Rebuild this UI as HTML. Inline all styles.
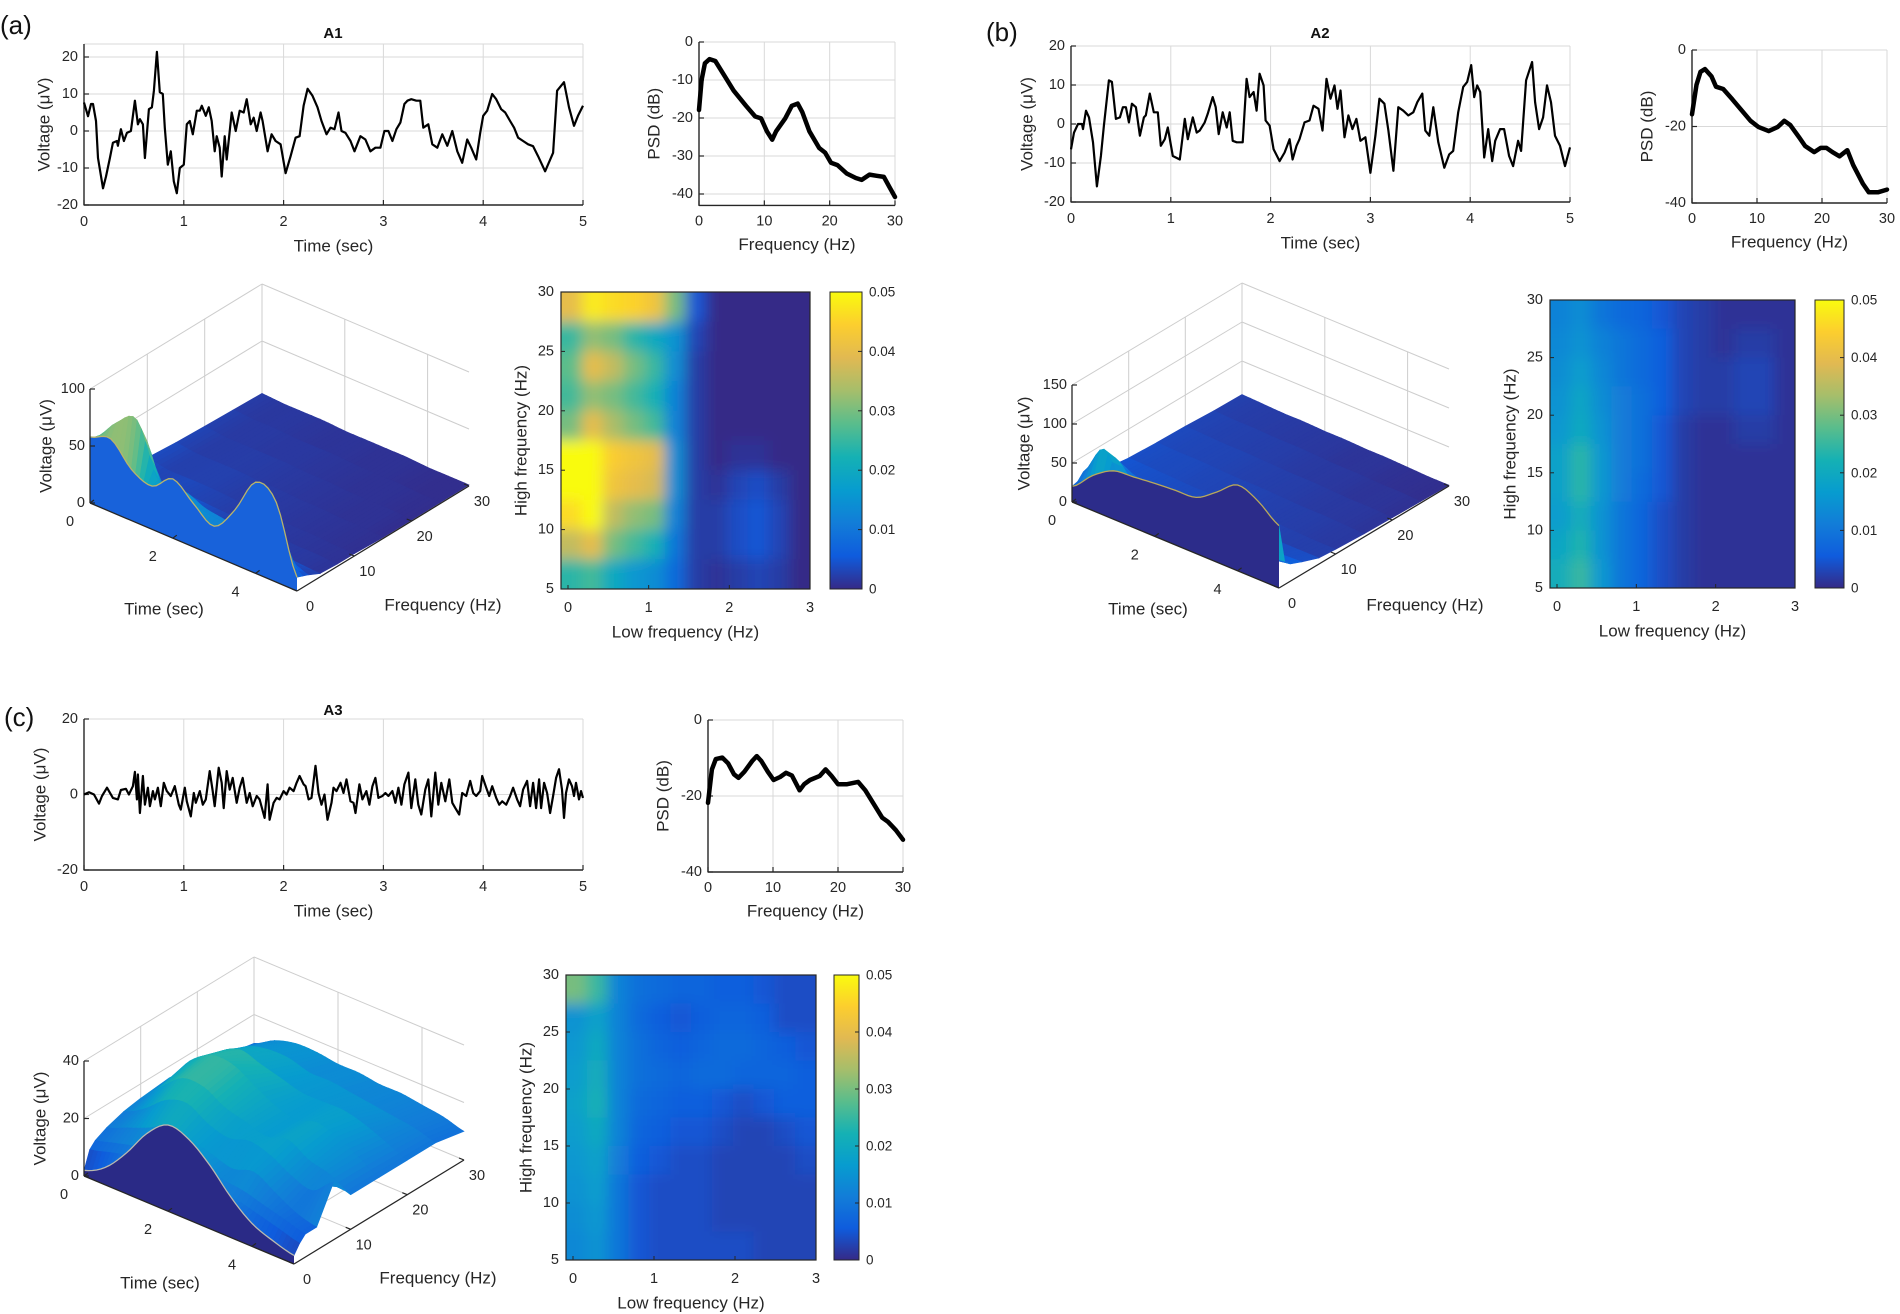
<!DOCTYPE html>
<html><head><meta charset="utf-8">
<style>
html,body{margin:0;padding:0;background:#fff}
svg{display:block;font-family:"Liberation Sans",Arial,sans-serif}
</style></head>
<body>
<svg id="fig" width="1900" height="1314" viewBox="0 0 1900 1314" xmlns="http://www.w3.org/2000/svg">
<defs>
<linearGradient id="parulaGrad" x1="0" y1="1" x2="0" y2="0">
<stop offset="0" stop-color="rgb(53,42,135)"/><stop offset="0.111" stop-color="rgb(15,92,221)"/><stop offset="0.222" stop-color="rgb(18,125,216)"/><stop offset="0.333" stop-color="rgb(7,156,207)"/><stop offset="0.444" stop-color="rgb(21,177,180)"/><stop offset="0.556" stop-color="rgb(89,189,140)"/><stop offset="0.667" stop-color="rgb(165,190,107)"/><stop offset="0.778" stop-color="rgb(225,185,82)"/><stop offset="0.889" stop-color="rgb(252,206,46)"/><stop offset="1" stop-color="rgb(249,251,14)"/>
</linearGradient>
<filter id="hmBlur" x="-10%" y="-10%" width="120%" height="120%"><feGaussianBlur stdDeviation="7"/></filter>
</defs>
<rect x="0" y="0" width="1900" height="1314" fill="#fff"/>
<text x="0" y="34" font-size="26" fill="#111">(a)</text>
<text x="986" y="41" font-size="26" fill="#111">(b)</text>
<text x="4" y="726" font-size="26" fill="#111">(c)</text>
<text x="333" y="38" font-size="15" font-weight="bold" text-anchor="middle" fill="#111">A1</text>
<text x="1320" y="38" font-size="15" font-weight="bold" text-anchor="middle" fill="#111">A2</text>
<text x="333" y="715" font-size="15" font-weight="bold" text-anchor="middle" fill="#111">A3</text>
</svg>
<script>
// ---------- data ----------
const timeTicks=[0,1,2,3,4,5];
const psdFreqTicks=[0,10,20,30];
const ts1Time=[0,0.04,0.07,0.09,0.12,0.14,0.19,0.22,0.26,0.29,0.33,0.34,0.37,0.40,0.43,0.47,0.51,0.54,0.56,0.59,0.61,0.65,0.68,0.70,0.73,0.76,0.79,0.81,0.84,0.87,0.90,0.93,0.96,1.0,1.03,1.06,1.09,1.13,1.16,1.18,1.22,1.25,1.28,1.31,1.33,1.36,1.38,1.41,1.43,1.48,1.52,1.56,1.60,1.63,1.67,1.70,1.73,1.77,1.79,1.84,1.88,1.92,1.97,2.02,2.07,2.12,2.16,2.20,2.24,2.29,2.34,2.38,2.43,2.47,2.51,2.55,2.58,2.62,2.67,2.71,2.77,2.82,2.87,2.92,2.97,3.01,3.05,3.09,3.13,3.17,3.21,3.24,3.28,3.33,3.37,3.40,3.45,3.49,3.54,3.59,3.64,3.69,3.74,3.79,3.84,3.88,3.93,3.97,4.0,4.04,4.09,4.13,4.18,4.22,4.27,4.31,4.35,4.40,4.45,4.50,4.55,4.62,4.70,4.74,4.81,4.86,4.91,4.95,5.0];
const ts1Volt=[7.7,4,7.3,7.3,2.7,-7.3,-15.5,-12.3,-7.3,-3.2,-2.7,-4,0.5,-2.7,-0.5,0,8.2,1.8,3.2,1.8,-7.3,5.9,6.4,10.9,21.4,10.5,10,0.9,-9.1,-5.5,-13.6,-16.8,-10,-9.1,1.8,2.7,-0.9,5.5,5.5,6.8,4.1,6.4,2.7,-5.5,-1.4,-4.5,-12.3,-1.4,-7.7,5,0,5.5,5,8.6,1.8,3.6,0,5,2.7,-5.5,-0.9,-2.7,-3.6,-11.4,-6.8,-1.8,-1.4,6.8,11.4,9.5,6.4,2.7,-0.9,0.9,0.5,5,0,-0.5,-2.7,-5.5,-1.4,-2.3,-5.5,-4.5,-4.5,0,0,-2.7,0.5,2.3,7.3,8.2,8.6,8.2,8.2,0.9,1.8,-3.6,-4.5,-0.9,-4,0,-5.5,-8.6,-2.3,-4.5,-7.7,-0.5,4.1,5.5,10,8.6,5.9,5,2.7,0.9,-1.8,-2.7,-3.6,-4.1,-6.8,-10.9,-5.9,10.9,13.2,6.4,1.4,4.1,6.8];
const ts2Time=[0,0.03,0.07,0.11,0.12,0.15,0.18,0.22,0.26,0.30,0.33,0.38,0.41,0.45,0.49,0.52,0.55,0.58,0.61,0.65,0.69,0.73,0.75,0.79,0.83,0.87,0.90,0.94,0.97,1.02,1.09,1.14,1.17,1.22,1.26,1.29,1.34,1.37,1.42,1.45,1.48,1.52,1.56,1.59,1.62,1.66,1.72,1.76,1.79,1.83,1.86,1.89,1.93,1.95,1.99,2.03,2.09,2.14,2.19,2.22,2.26,2.29,2.34,2.39,2.43,2.48,2.52,2.56,2.60,2.64,2.67,2.70,2.74,2.78,2.82,2.86,2.90,2.95,3.0,3.05,3.09,3.14,3.18,3.23,3.28,3.33,3.38,3.43,3.47,3.52,3.55,3.59,3.63,3.68,3.74,3.79,3.83,3.88,3.93,3.97,4.01,4.04,4.07,4.10,4.14,4.18,4.22,4.25,4.30,4.34,4.39,4.43,4.48,4.51,4.56,4.62,4.65,4.69,4.73,4.77,4.81,4.85,4.90,4.95,5.0];
const ts2Volt=[-6.5,-2.2,0,0,-1.3,3.4,1.7,-4.7,-16,-8.2,-0.4,11.2,10.8,1.3,1.7,4.3,4.3,0.4,5.2,4.3,-3,1.7,2.2,7.8,3,3,-5.6,-3.9,-0.9,-8.2,-9.1,1.3,-3.9,1.7,-2.2,-1.7,0.4,2.6,6.9,4.3,-2.6,3,-0.9,3,-4.3,-4.7,-4.7,11.6,6.9,8.2,3.4,12.9,9.9,0.9,-0.4,-6.5,-9.5,-7.3,-3.9,-9.1,-5.6,-3.9,0.4,0.9,4.7,3.9,-1.7,11.6,6.5,9.9,3.9,8.6,-3.4,2.2,-1.3,1.3,-4.3,-3.4,-12.5,-3,6.5,5.2,-1.7,-12,4.3,3.4,2.2,3,5.6,7.8,-1.7,-3,4.3,-4.7,-11.2,-7.8,-6.9,3,9.5,10.8,15.1,6.9,9.9,8.2,-8.6,-1.3,-9.5,-4.3,-1.3,-1.3,-8.2,-10.8,-4.3,-6.9,11.2,15.9,5.6,-1.3,1.7,9.9,5.6,-3,-5.6,-10.8,-6];
const ts3Time=[0,0.05,0.10,0.15,0.18,0.23,0.29,0.34,0.37,0.42,0.45,0.49,0.51,0.53,0.54,0.56,0.59,0.61,0.64,0.66,0.69,0.71,0.74,0.77,0.80,0.83,0.87,0.91,0.95,0.97,1.01,1.03,1.07,1.10,1.12,1.16,1.19,1.22,1.26,1.29,1.31,1.35,1.38,1.40,1.43,1.46,1.49,1.53,1.56,1.59,1.63,1.66,1.69,1.73,1.76,1.81,1.84,1.86,1.90,1.93,1.96,2.00,2.03,2.06,2.10,2.13,2.16,2.20,2.22,2.25,2.28,2.32,2.35,2.38,2.41,2.44,2.48,2.50,2.53,2.57,2.60,2.63,2.67,2.70,2.72,2.76,2.79,2.83,2.86,2.89,2.92,2.95,2.99,3.02,3.05,3.09,3.12,3.15,3.18,3.21,3.25,3.28,3.32,3.35,3.38,3.42,3.45,3.48,3.52,3.55,3.58,3.62,3.66,3.69,3.72,3.76,3.79,3.83,3.87,3.90,3.93,3.97,3.99,4.03,4.06,4.09,4.13,4.16,4.19,4.23,4.27,4.30,4.34,4.37,4.40,4.44,4.47,4.50,4.53,4.56,4.58,4.61,4.64,4.67,4.70,4.73,4.76,4.79,4.81,4.83,4.86,4.89,4.91,4.93,4.96,4.98,5.0];
const ts3Volt=[0,0.6,0,-2.4,-0.4,1.8,-0.9,-1.3,1.2,1.5,0,2.2,6,-1.3,5.3,-4.9,4.9,-2.7,1.8,-3.1,0.9,-1.3,1.8,-3.1,3.1,0.9,-0.4,2.2,-2.7,-4,1.8,-1.8,-5.8,0.4,-2.2,0.9,-2.7,-1.3,6.2,0.9,-3.1,7.1,3.1,-3.6,6.2,1.3,4.4,-2.2,1.8,4.4,-2.2,0.4,-3.1,-0.4,-1.3,-6.2,2.7,-6.7,-2.2,-0.9,-1.3,0.9,0,1.8,0.9,3.1,4.9,2.7,2.2,-1.3,-0.9,7.6,0.4,-2.7,0,-6.7,-2.2,1.8,0.9,3.1,0.4,4,-1.8,-2.2,-4.9,2.7,-1.3,0.9,-2.7,2.2,4.4,-0.9,-0.4,0.4,-0.4,0.9,-2.2,1.8,-2.7,2.7,5.8,-3.6,4,-2.7,-5.3,1.3,4,-5.8,5.8,-2.7,3.1,-1.8,4,-2.2,-3.6,-5.3,0.4,-0.4,3.6,0.4,-0.4,0.9,4.9,1.8,-0.4,2.2,-0.9,-2.7,-1.8,-2.7,-0.4,1.8,-1.3,-3.1,1.3,3.6,-3.1,3.1,-3.6,4,-3.6,3.1,0.4,-4.9,-0.4,4.4,6.7,1.3,-6.2,0.4,4,2.2,-0.4,3.1,-1.3,0.9,-0.9];
const psd1Freq=[0,0.4,0.9,1.6,2.5,3.9,5.3,7.2,8.6,9.5,10.4,11.2,11.8,13.2,14.2,15.1,15.8,16.9,18.4,19.3,20.2,21.2,22.6,24,24.9,26.1,27.2,28.3,29.1,30];
const psd1Db=[-17.9,-10,-5.6,-4.5,-5,-8.9,-12.8,-16.8,-19.6,-20.1,-23.5,-25.7,-23.5,-20.1,-16.8,-16.2,-18.4,-23.5,-27.9,-29.1,-31.8,-32.4,-34.6,-35.8,-36.3,-34.9,-35.2,-35.5,-38,-40.8];
const psd2Freq=[0,0.7,1.3,2,3,3.7,4.8,6.2,7.6,9,10.2,11.8,13.2,14.2,15.1,16.5,17.4,18.8,19.8,20.7,21.6,22.7,23.9,24.8,26.3,27.2,28.6,30];
const psd2Db=[-16.8,-9.1,-5.7,-5,-6.9,-9.6,-10.2,-12.9,-15.7,-18.5,-20.1,-21.2,-20.1,-18.5,-19.6,-22.9,-25.1,-26.7,-25.6,-25.6,-26.7,-27.8,-26.2,-30.1,-35,-37.2,-37.2,-36.5];
const psd3Freq=[0,0.6,1.2,2.2,3.1,4,4.7,5.6,6.8,7.5,8.2,9.2,10.1,11.1,12,12.9,14.1,14.8,15.7,17.2,18.1,19,20,21.4,23.1,24.2,25.6,26.8,27.7,28.9,30];
const psd3Db=[-21.8,-13,-10.3,-9.9,-11.4,-14.3,-15.2,-13.6,-10.8,-9.5,-10.8,-13.6,-15.8,-15,-13.9,-14.6,-18.5,-16.9,-15.8,-14.7,-13,-14.7,-16.9,-16.9,-16.3,-18.5,-22.4,-25.7,-26.8,-29,-31.5];
const surfFreqs=[0,1,2,4,7,10,15,20,25,30];
const surfTimes=[0,0.5,1,1.5,2,2.5,3,3.5,4,4.5,5];
const surfA=[[58,64,45,38,52,38,26,48,80,70,12],[55,75,85,40,30,30,28,30,35,30,10],[45,50,70,30,35,28,25,20,20,15,8],[14,12,14,15,10,7,6,5,5,4,3],[10,7,9,7,6,5,4,4,3,3,2],[9,6,6,6,5,4,4,3,3,2,2],[7,5,5,5,4,4,3,3,2,2,1],[6,4,4,4,4,3,3,2,2,2,1],[5,4,4,3,3,3,2,2,2,1,1],[4,3,3,3,2,2,2,2,1,1,1]];
const surfB=[[20,45,62,65,68,70,72,90,110,100,80],[22,40,30,25,22,20,20,22,25,25,30],[30,70,28,22,20,18,18,18,18,18,22],[35,50,25,20,18,16,16,16,15,15,16],[16,14,13,12,11,10,9,9,8,8,8],[13,12,11,10,10,9,8,8,7,6,6],[11,10,10,9,8,8,7,6,6,5,4],[10,9,8,8,7,6,6,5,4,4,3],[8,7,7,6,6,5,4,4,3,3,2],[7,6,5,5,4,4,3,3,2,1,1]];
const surfC=[[2,6,14,24,30,28,22,14,8,5,3],[8,10,12,15,18,16,14,12,10,8,6],[10,12,14,16,20,18,15,14,12,10,8],[12,15,18,22,20,18,16,18,14,10,8],[14,18,24,26,22,20,22,20,16,14,20],[15,22,28,28,24,22,20,22,18,16,12],[16,25,30,30,26,22,20,22,20,16,12],[14,22,26,24,22,20,20,20,18,15,12],[12,18,20,20,18,18,17,16,15,14,12],[10,14,16,16,15,15,14,14,13,12,10]];
const hmHighTicks=[5,10,15,20,25,30];
const hmLowTicks=[0,1,2,3];
const cbTicks=[0,0.01,0.02,0.03,0.04,0.05];
const hmA=[[40,48,46,45,42,30,5,0,0,0,0,0],[25,32,30,24,20,15,3,0,0,0,0,0],[28,40,36,30,25,14,2,0,0,0,0,0],[26,32,30,26,22,12,2,0,0,0,0,0],[30,40,34,30,26,12,2,0,0,0,0,0],[50,50,44,42,40,14,2,0,1,1,0,0],[50,50,42,40,38,14,2,1,3,4,2,0],[46,50,36,32,30,12,2,2,4,5,3,0],[36,40,30,26,22,10,2,2,4,5,3,0],[24,26,20,16,14,8,2,1,2,3,2,0]];
const hmB=[[12,14,10,8,7,5,3,2,1,1,1,1],[13,15,12,10,8,6,3,2,1,2,2,1],[14,17,13,10,8,6,3,2,2,3,3,1],[15,19,14,11,9,6,3,2,2,3,3,1],[16,20,15,11,9,5,2,1,1,2,2,1],[18,24,16,11,9,5,2,1,1,1,1,1],[18,24,16,11,8,5,2,1,1,1,1,1],[17,21,15,10,7,4,2,1,1,1,1,1],[19,23,15,10,7,4,2,1,1,1,1,1],[21,25,16,10,7,4,2,1,1,1,1,1]];
const hmC=[[30,25,12,9,8,7,7,6,6,5,4,4],[15,18,12,8,6,5,6,7,7,6,4,4],[16,20,12,9,7,6,7,8,8,7,6,5],[17,21,12,9,8,7,8,8,7,7,7,6],[18,22,12,8,7,6,6,5,4,5,6,6],[17,20,12,7,6,5,5,4,3,3,4,5],[16,18,11,6,5,4,4,3,3,3,3,4],[15,17,10,5,4,4,4,3,3,3,3,3],[14,16,10,5,4,4,4,3,3,3,3,3],[13,15,10,5,4,4,4,4,4,3,3,3]];

// ---------- helpers ----------
const NS='http://www.w3.org/2000/svg';
const svg=document.getElementById('fig');
const DARK='#262626', GRID='#d9d9d9';
const PAR=[[53,42,135],[15,92,221],[18,125,216],[7,156,207],[21,177,180],[89,189,140],[165,190,107],[225,185,82],[252,206,46],[249,251,14]];
function parula(v){v=Math.max(0,Math.min(1,v));const s=v*(PAR.length-1);const i=Math.min(PAR.length-2,Math.floor(s));const f=s-i;const a=PAR[i],b=PAR[i+1];return 'rgb('+[0,1,2].map(k=>Math.round(a[k]+(b[k]-a[k])*f)).join(',')+')';}
function lin(d0,d1,p0,p1){return v=>p0+(v-d0)/(d1-d0)*(p1-p0);}
function mk(tag,attrs,parent,name){
  const e=document.createElementNS(NS,tag);
  for(const k in attrs) e.setAttribute(k,attrs[k]);
  
  
  (parent||svg).appendChild(e);
  return e;
}
function grp(name){return mk('g',{},svg,name);}
function ln(g,x1,y1,x2,y2,stroke,w,name){return mk('line',{x1:x1,y1:y1,x2:x2,y2:y2,stroke:stroke,'stroke-width':w},g,name);}
function tx(g,x,y,s,size,anchor,name,extra){const a={x:x,y:y,'font-size':size,'text-anchor':anchor||'middle','dominant-baseline':'central',fill:'#262626'};if(extra)for(const k in extra)a[k]=extra[k];const t=mk('text',a,g,name);t.textContent=s;return t;}
function vtx(g,x,y,s,size,name){return tx(g,x,y,s,size,'middle',name,{transform:'rotate(-90 '+x+' '+y+')'});}

// ---------- time series ----------
function drawTS(c){
  const g=grp(c.name);
  const X=lin(0,5,c.x0,c.x1), Y=lin(-20,20,c.ym20,c.y20);
  const yTop=Y(c.top), yBot=Y(-20);
  timeTicks.forEach(t=>{ if(t>0) ln(g,X(t),yTop,X(t),yBot,GRID,1,'x-grid-line'); });
  c.yticks.forEach(v=>{ if(v>-20) ln(g,c.x0,Y(v),c.x1,Y(v),GRID,1,'y-grid-line'); });
  ln(g,c.x0,yTop,c.x1,yTop,GRID,1,'box-top');
  ln(g,c.x0,yTop,c.x0,yBot+0.5,DARK,1.4,'y-axis');
  ln(g,c.x0,yBot,c.x1,yBot,DARK,1.4,'x-axis');
  timeTicks.forEach(t=>{ ln(g,X(t),yBot,X(t),yBot-5,DARK,1.2,'x-tick'); tx(g,X(t),yBot+17,String(t),14.5,'middle','x-tick-label'); });
  c.yticks.forEach(v=>{ ln(g,c.x0,Y(v),c.x0+5,Y(v),DARK,1.2,'y-tick'); tx(g,c.x0-6,Y(v),String(v),14.5,'end','y-tick-label'); });
  tx(g,(c.x0+c.x1)/2,yBot+41,'Time (sec)',17,'middle','x-axis-title');
  vtx(g,c.ylabX,(yTop+yBot)/2,'Voltage (μV)',17,'y-axis-title');
  const n=Math.min(c.times.length,c.volts.length);
  let d='';for(let i=0;i<n;i++){d+=(i?'L':'M')+X(c.times[i]).toFixed(1)+' '+Y(c.volts[i]).toFixed(1);}
  mk('path',{d:d,fill:'none',stroke:'#000','stroke-width':2.2,'stroke-linejoin':'round'},g,'voltage-trace');
}
// ---------- PSD ----------
function drawPSD(c){
  const g=grp(c.name);
  const X=lin(0,30,c.x0,c.x1), Y=lin(0,-40,c.y0,c.y40);
  const yBot=Y(c.bottom), yTop=Y(0);
  psdFreqTicks.forEach(f=>{ if(f>0) ln(g,X(f),yTop,X(f),yBot,GRID,1,'x-grid-line'); });
  c.yticks.forEach(v=>{ if(v>c.bottom && v<0) ln(g,c.x0,Y(v),c.x1,Y(v),GRID,1,'y-grid-line'); });
  ln(g,c.x0,yTop,c.x1,yTop,GRID,1,'box-top');
  ln(g,c.x0,yTop,c.x0,yBot+0.5,DARK,1.4,'y-axis');
  ln(g,c.x0,yBot,c.x1,yBot,DARK,1.4,'x-axis');
  psdFreqTicks.forEach(f=>{ ln(g,X(f),yBot,X(f),yBot-5,DARK,1.2,'x-tick'); tx(g,X(f),yBot+16,String(f),14.5,'middle','x-tick-label'); });
  c.yticks.forEach(v=>{ ln(g,c.x0,Y(v),c.x0+5,Y(v),DARK,1.2,'y-tick'); tx(g,c.x0-6,Y(v),String(v),14.5,'end','y-tick-label'); });
  tx(g,(c.x0+c.x1)/2,yBot+39,'Frequency (Hz)',17,'middle','x-axis-title');
  vtx(g,c.x0-45,(yTop+yBot)/2,'PSD (dB)',17,'y-axis-title');
  const n=Math.min(c.freqs.length,c.db.length);
  let d='';for(let i=0;i<n;i++){d+=(i?'L':'M')+X(c.freqs[i]).toFixed(1)+' '+Y(c.db[i]).toFixed(1);}
  mk('path',{d:d,fill:'none',stroke:'#000','stroke-width':4.5,'stroke-linejoin':'round','stroke-linecap':'round'},g,'psd-curve');
}
// ---------- 3D surface ----------
function cr(p0,p1,p2,p3,s){return 0.5*((2*p1)+(-p0+p2)*s+(2*p0-5*p1+4*p2-p3)*s*s+(-p0+3*p1-3*p2+p3)*s*s*s);}
function densify(row){const out=[];const ts=[];const n=row.length;const sub=5;
  for(let i=0;i<n-1;i++){for(let k=0;k<sub;k++){const s=k/sub;const v=cr(row[Math.max(0,i-1)],row[i],row[i+1],row[Math.min(n-1,i+2)],s);out.push(Math.max(0,v));ts.push(surfTimes[i]+(surfTimes[i+1]-surfTimes[i])*s);}}
  out.push(row[n-1]);ts.push(surfTimes[n-1]);return {v:out,t:ts};}
function draw3D(c){
  const g=grp(c.name);
  const P=(t,f,z)=>[c.ox+t/5*c.tv[0]+f/30*c.fv[0], c.oy+t/5*c.tv[1]+f/30*c.fv[1]-z*c.zs];
  const L=(a,b,col,w,name)=>ln(g,a[0].toFixed(1),a[1].toFixed(1),b[0].toFixed(1),b[1].toFixed(1),col,w,name);
  const WALL='#cdcdcd';
  c.zticks.forEach(z=>{ if(z>0){ L(P(0,0,z),P(0,30,z),WALL,1,'wall-grid-line'); L(P(0,30,z),P(5,30,z),WALL,1,'wall-grid-line'); }});
  [10,20,30].forEach(f=>L(P(0,f,0),P(0,f,c.zmax),WALL,1,'wall-grid-line'));
  [2,4].forEach(t=>L(P(t,30,0),P(t,30,c.zmax),WALL,1,'wall-grid-line'));
  [2,4].forEach(t=>L(P(t,0,0),P(t,30,0),WALL,1,'floor-grid-line'));
  [10,20].forEach(f=>L(P(0,f,0),P(5,f,0),WALL,1,'floor-grid-line'));
  L(P(0,30,0),P(5,30,0),WALL,1,'floor-edge');
  const rows=c.data.map(r=>densify(r));
  const sg=mk('g',{},g,'surface');
  for(let i=rows.length-2;i>=0;i--){
    const a=rows[i],b=rows[i+1];
    for(let j=0;j<a.v.length-1;j++){
      const pts=[P(a.t[j],surfFreqs[i],a.v[j]),P(a.t[j+1],surfFreqs[i],a.v[j+1]),P(a.t[j+1],surfFreqs[i+1],b.v[j+1]),P(a.t[j],surfFreqs[i+1],b.v[j])];
      const col=parula((a.v[j]+a.v[j+1]+b.v[j]+b.v[j+1])/4/c.cmax);
      mk('polygon',{points:pts.map(p=>p[0].toFixed(1)+','+p[1].toFixed(1)).join(' '),fill:col,stroke:col,'stroke-width':0.6},sg,'surface-facet');
    }
  }
  const f0=rows[0];
  let pts=[];for(let j=0;j<f0.v.length;j++)pts.push(P(f0.t[j],0,f0.v[j]));
  const top=pts.map(p=>p[0].toFixed(1)+','+p[1].toFixed(1)).join(' ');
  pts.push(P(5,0,0));pts.push(P(0,0,0));
  mk('polygon',{points:pts.map(p=>p[0].toFixed(1)+','+p[1].toFixed(1)).join(' '),fill:c.curtain},g,'front-face');
  mk('polyline',{points:top,fill:'none',stroke:c.edge,'stroke-width':1.3},g,'front-edge');
  L(P(0,0,0),P(0,0,c.zmax),DARK,1.3,'z-axis');
  L(P(0,0,0),P(5,0,0),DARK,1.3,'time-axis');
  L(P(5,0,0),P(5,30,0),DARK,1.3,'frequency-axis');
  c.zticks.forEach(z=>{const p=P(0,0,z);L(p,[p[0]+5,p[1]],DARK,1.2,'z-tick');tx(g,p[0]-5,p[1],String(z),14.5,'end','z-tick-label');});
  [0,2,4].forEach(t=>{const p=P(t,0,0);L(p,[p[0]+4,p[1]-3],DARK,1.2,'time-tick');tx(g,p[0]-20,p[1]+19,String(t),14.5,'middle','time-tick-label');});
  [0,10,20,30].forEach(f=>{const p=P(5,f,0);L(p,[p[0]-5,p[1]-2],DARK,1.2,'freq-tick');tx(g,p[0]+13,p[1]+16,String(f),14.5,'middle','freq-tick-label');});
  tx(g,c.tLab[0],c.tLab[1],'Time (sec)',17,'middle','time-axis-title');
  tx(g,c.fLab[0],c.fLab[1],'Frequency (Hz)',17,'middle','frequency-axis-title');
  vtx(g,c.zLabX,(P(0,0,0)[1]+P(0,0,c.zmax)[1])/2,'Voltage (μV)',17,'z-axis-title');
}
// ---------- heatmap ----------
let clipN=0;
function drawHM(c){
  const g=grp(c.name);
  const W=c.right-c.left,H=c.bottom-c.top;
  const cid='hmclip'+(clipN++);
  const cp=mk('clipPath',{id:cid},svg.querySelector('defs'),'heatmap-clip');
  mk('rect',{x:c.left,y:c.top,width:W,height:H},cp,'clip-rect');
  const cg=mk('g',{'clip-path':'url(#'+cid+')'},g,'heatmap-cells');
  mk('rect',{x:c.left,y:c.top,width:W,height:H,fill:parula(0)},cg,'heatmap-bg');
  const bg=mk('g',{filter:'url(#hmBlur)'},cg,'heatmap-blur');
  const nr=c.data.length,nc=c.data[0].length,cw=W/nc,ch=H/nr;
  for(let r=0;r<nr;r++)for(let k=0;k<nc;k++){
    let x=c.left+k*cw,y=c.top+r*ch,w=cw+0.6,h=ch+0.6;
    if(k===0){x-=20;w+=20;} if(k===nc-1){w+=20;} if(r===0){y-=20;h+=20;} if(r===nr-1){h+=20;}
    mk('rect',{x:x.toFixed(1),y:y.toFixed(1),width:w.toFixed(1),height:h.toFixed(1),fill:parula(c.data[r][k]/50)},bg,'heatmap-cell');
  }
  mk('rect',{x:c.left,y:c.top,width:W,height:H,fill:'none',stroke:DARK,'stroke-width':1.2},g,'heatmap-frame');
  const X=lin(0,3,c.left+7,c.right), Y=lin(5,30,c.bottom,c.top);
  hmLowTicks.forEach(v=>{tx(g,X(v),c.bottom+19,String(v),14.5,'middle','x-tick-label');ln(g,X(v),c.bottom,X(v),c.bottom-4,DARK,1,'x-tick');});
  hmHighTicks.forEach(v=>{tx(g,c.left-7,Y(v),String(v),14.5,'end','y-tick-label');ln(g,c.left,Y(v),c.left+4,Y(v),DARK,1,'y-tick');});
  tx(g,(c.left+c.right)/2,c.bottom+43,'Low frequency (Hz)',17,'middle','x-axis-title');
  vtx(g,c.left-40,(c.top+c.bottom)/2,'High frequency (Hz)',17,'y-axis-title');
  mk('rect',{x:c.cbl,y:c.top,width:c.cbr-c.cbl,height:H,fill:'url(#parulaGrad)',stroke:DARK,'stroke-width':1},g,'colorbar');
  const CY=lin(0,0.05,c.bottom,c.top);
  cbTicks.forEach(v=>{tx(g,c.cbr+7,CY(v),v===0?'0':v.toFixed(2),13.5,'start','colorbar-tick-label');ln(g,c.cbr,CY(v),c.cbr-4,CY(v),DARK,1,'colorbar-tick');});
}

// ---------- panels ----------
drawTS({name:'a1-time-series',x0:84,x1:583,y20:57,ym20:205,top:23.5,yticks:[-20,-10,0,10,20],times:ts1Time,volts:ts1Volt,ylabX:44});
drawTS({name:'a2-time-series',x0:1071,x1:1570,y20:46,ym20:202,top:20,yticks:[-20,-10,0,10,20],times:ts2Time,volts:ts2Volt,ylabX:1027});
drawTS({name:'a3-time-series',x0:84,x1:583,y20:719,ym20:870,top:20,yticks:[-20,0,20],times:ts3Time,volts:ts3Volt,ylabX:40});
drawPSD({name:'a1-psd',x0:699,x1:895,y0:42,y40:194,bottom:-43,yticks:[-40,-30,-20,-10,0],freqs:psd1Freq,db:psd1Db});
drawPSD({name:'a2-psd',x0:1692,x1:1887,y0:50,y40:203,bottom:-40,yticks:[-40,-20,0],freqs:psd2Freq,db:psd2Db});
drawPSD({name:'a3-psd',x0:708,x1:903,y0:720,y40:872,bottom:-40,yticks:[-40,-20,0],freqs:psd3Freq,db:psd3Db});
draw3D({name:'a1-surface',ox:90,oy:503,tv:[207,88],fv:[172,-105],zs:1.14,zmax:100,cmax:110,zticks:[0,50,100],data:surfA,curtain:'rgb(24,98,218)',edge:'#b9b46a',tLab:[164,609],fLab:[443,605],zLabX:46});
draw3D({name:'a2-surface',ox:1072,oy:502,tv:[207,86],fv:[170,-102],zs:0.78,zmax:150,cmax:150,zticks:[0,50,100,150],data:surfB,curtain:'rgb(44,44,138)',edge:'#b9a85a',tLab:[1148,609],fLab:[1425,605],zLabX:1024});
draw3D({name:'a3-surface',ox:84,oy:1176,tv:[210,88],fv:[170,-104],zs:2.875,zmax:40,cmax:60,zticks:[0,20,40],data:surfC,curtain:'rgb(42,42,134)',edge:'#b9b9b0',tLab:[160,1283],fLab:[438,1278],zLabX:40});
drawHM({name:'a1-comodulogram',left:561,right:810,top:292,bottom:589,cbl:830,cbr:862,data:hmA});
drawHM({name:'a2-comodulogram',left:1550,right:1795,top:300,bottom:588,cbl:1815,cbr:1844,data:hmB});
drawHM({name:'a3-comodulogram',left:566,right:816,top:975,bottom:1260,cbl:834,cbr:859,data:hmC});
</script>
</body></html>
